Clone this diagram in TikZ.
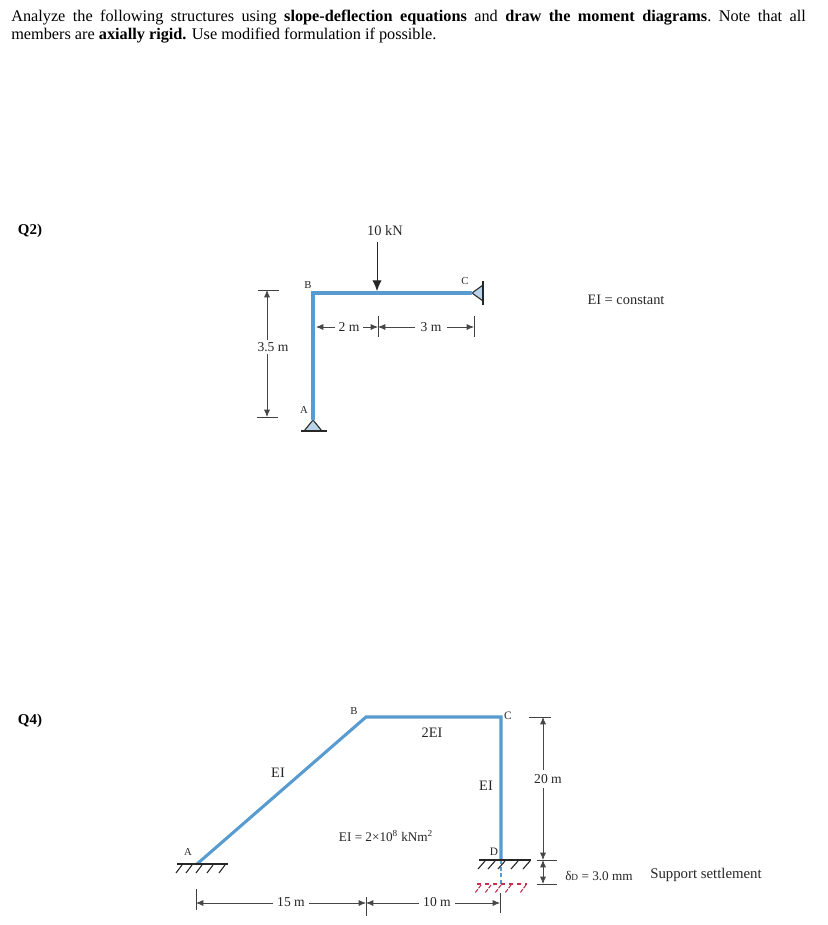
\documentclass[tikz,border=0pt]{standalone}
\usepackage{fontspec}
\setmainfont{Liberation Serif}
\usetikzlibrary{arrows.meta}
\definecolor{member}{RGB}{88,155,208}
\definecolor{supfill}{RGB}{185,212,232}
\definecolor{dimgray}{RGB}{70,70,70}
\definecolor{settle}{RGB}{190,50,80}
\tikzset{
  memberline/.style={draw=member,line width=2.3pt,line cap=round,line join=miter},
  lbl/.style={inner sep=0pt,font=\fontsize{10.8}{12}\selectfont,text=black!85},
  lblb/.style={inner sep=0pt,font=\fontsize{9.9}{12}\selectfont,text=black!85},
  small/.style={inner sep=0pt,font=\fontsize{8}{9}\selectfont,text=black!85},
  txtlbl/.style={inner sep=1pt,fill=white,font=\fontsize{10.2}{12}\selectfont,text=black!85},
  dimline/.style={draw=dimgray,line width=0.55pt,{Latex[length=5.5pt,width=4.5pt]}-{Latex[length=5.5pt,width=4.5pt]}},
  tickline/.style={draw=black!75,line width=0.7pt},
  gnd/.style={draw=black!85,line width=0.8pt},
  sup/.style={draw=black!85,fill=supfill,line width=0.8pt},
  qlabel/.style={inner sep=0pt,font=\fontsize{11.2}{13}\selectfont\bfseries},
  headline/.style={anchor=base west,inner sep=0pt,font=\fontsize{12.2}{13.5}\selectfont}
}
\begin{document}
\begin{tikzpicture}[x=0.75pt,y=-0.75pt]
\useasboundingbox[fill=white] (0,0) rectangle (828,925);
% heading
\node[headline] (head1) at (11,21)
 {\hbox to 596pt{Analyze\hfill the\hfill following\hfill structures\hfill using\hfill \textbf{slope-deflection}\hfill \textbf{equations}\hfill and\hfill \textbf{draw}\hfill \textbf{the}\hfill \textbf{moment}\hfill \textbf{diagrams}.\hfill Note\hfill that\hfill all}};
\node[headline] (head2) at (11,39)
 {\spaceskip=0.25em members are \textbf{axially rigid.} Use modified formulation if possible.};
\node[qlabel] (q2) at (30,231) {Q2)};
\node[qlabel] (q4) at (30,721) {Q4)};

% ---------- Q2
\coordinate (A2) at (313,419);
\coordinate (B2) at (313,293);
\coordinate (C2) at (471,293);
\coordinate (A2tip) at (313,420);
\coordinate (C2tip) at (472,293);
\coordinate (L2) at (377,291);
\coordinate (L2top) at (377,242);
\draw[sup] (A2tip) -- (304,431) -- (322,431) -- cycle;
\draw[gnd] (301,431) -- (327,431);
\draw[sup] (C2tip) -- (483,285) -- (483,301) -- cycle;
\draw[gnd] (483,281) -- (483,305);
\draw[draw=black!85,line width=0.7pt,-{Latex[length=8pt,width=7pt]}] (L2top) -- (L2);
\draw[memberline] (A2) -- (B2) -- (C2);
\node[lbl] (p10) at (385,231) {10 kN};
\node[small] (lb2) at (308,285) {B};
\node[small] (lc2) at (465,281) {C};
\node[small] (la2) at (304,410) {A};
\node[lbl] (ei2) at (626,300) {EI = constant};

\coordinate (h1) at (267,290);
\coordinate (h2) at (267,417);
\draw[tickline] (258,290) -- (279,290);
\draw[tickline] (257,417) -- (278,417);
\draw[dimline] (h1) -- (h2);
\node[txtlbl,inner xsep=0pt,inner ysep=2pt] (d35) at (273,347) {3.5 m};

\coordinate (w1) at (316,327);
\coordinate (w2) at (378,327);
\coordinate (w3) at (474,327);
\draw[tickline] (378,316) -- (378,337);
\draw[tickline] (474,316) -- (474,337);
\draw[dimline] (w1) -- (w2);
\draw[dimline] (w2) -- (w3);
\node[txtlbl,inner xsep=3pt] (d2) at (349,327) {2 m};
\node[txtlbl,inner xsep=4pt] (d3) at (431,327) {3 m};

% ---------- Q4
\coordinate (A4) at (197,864);
\coordinate (B4) at (366,717);
\coordinate (C4) at (501,717);
\coordinate (D4) at (501,860);
\coordinate (D4s) at (501,884);
\draw[memberline] (A4) -- (B4) -- (C4) -- (D4);
\draw[draw=member,line width=1.2pt,dash pattern=on 3pt off 2pt] (D4) -- (D4s);
% ground at A
\draw[gnd] (177,864) -- (228,864);
\foreach \x in {182,192,202,213,225} \draw[gnd] (\x,865) -- (\x-6,873);
% ground at D
\draw[gnd] (479,860) -- (531,860);
\foreach \x in {485,495,505,518,530} \draw[gnd] (\x,861) -- (\x-7,869);
% shifted ground
\draw[settle,line width=0.8pt,dashed] (477,884) -- (527,884);
\foreach \x in {481,491,501,511,526} \draw[settle,line width=0.8pt,dash pattern=on 3pt off 1pt] (\x,885) -- (\x-6,893);

\node[small] (lb4) at (354,711) {B};
\node[small,font=\fontsize{8.5}{9}\selectfont] (lc4) at (508,716) {C};
\node[small] (la4) at (188,852) {A};
\node[small,font=\fontsize{8.5}{9}\selectfont] (ld4) at (494,852) {D};
\node[lbl] (e1) at (432,733) {2EI};
\node[lbl] (e2) at (278,773) {EI};
\node[lbl] (e3) at (486,786) {EI};
\node[lblb] (e4) at (386,836) {EI = 2×10\textsuperscript{8} kNm\textsuperscript{2}};

\coordinate (v1) at (543,717);
\coordinate (v2) at (543,860);
\coordinate (v3) at (543,884);
\draw[tickline] (529,717) -- (551,717);
\draw[tickline] (537,860) -- (557,860);
\draw[tickline] (537,884) -- (557,884);
\draw[dimline] (v1) -- (v2);
\draw[dimline] (v2) -- (v3);
\node[txtlbl,inner xsep=1pt,inner ysep=3pt] (d20) at (548,779) {20 m};
\node[lblb,anchor=west] (dd) at (565,876) {δ{\fontsize{7}{7}\selectfont D} = 3.0 mm};
\node[lbl,anchor=west,font=\fontsize{11.1}{12}\selectfont] (ss) at (650,875) {Support settlement};

\coordinate (u1) at (196,903);
\coordinate (u2) at (366,903);
\coordinate (u3) at (500,903);
\draw[tickline] (196,889) -- (196,910);
\draw[tickline] (366,897) -- (366,916);
\draw[tickline] (500,893) -- (500,913);
\draw[dimline] (u1) -- (u2);
\draw[dimline] (u2) -- (u3);
\node[txtlbl,inner xsep=3pt] (d15) at (291,902) {15 m};
\node[txtlbl,inner xsep=3pt] (d10) at (437,902) {10 m};
\end{tikzpicture}
\end{document}
